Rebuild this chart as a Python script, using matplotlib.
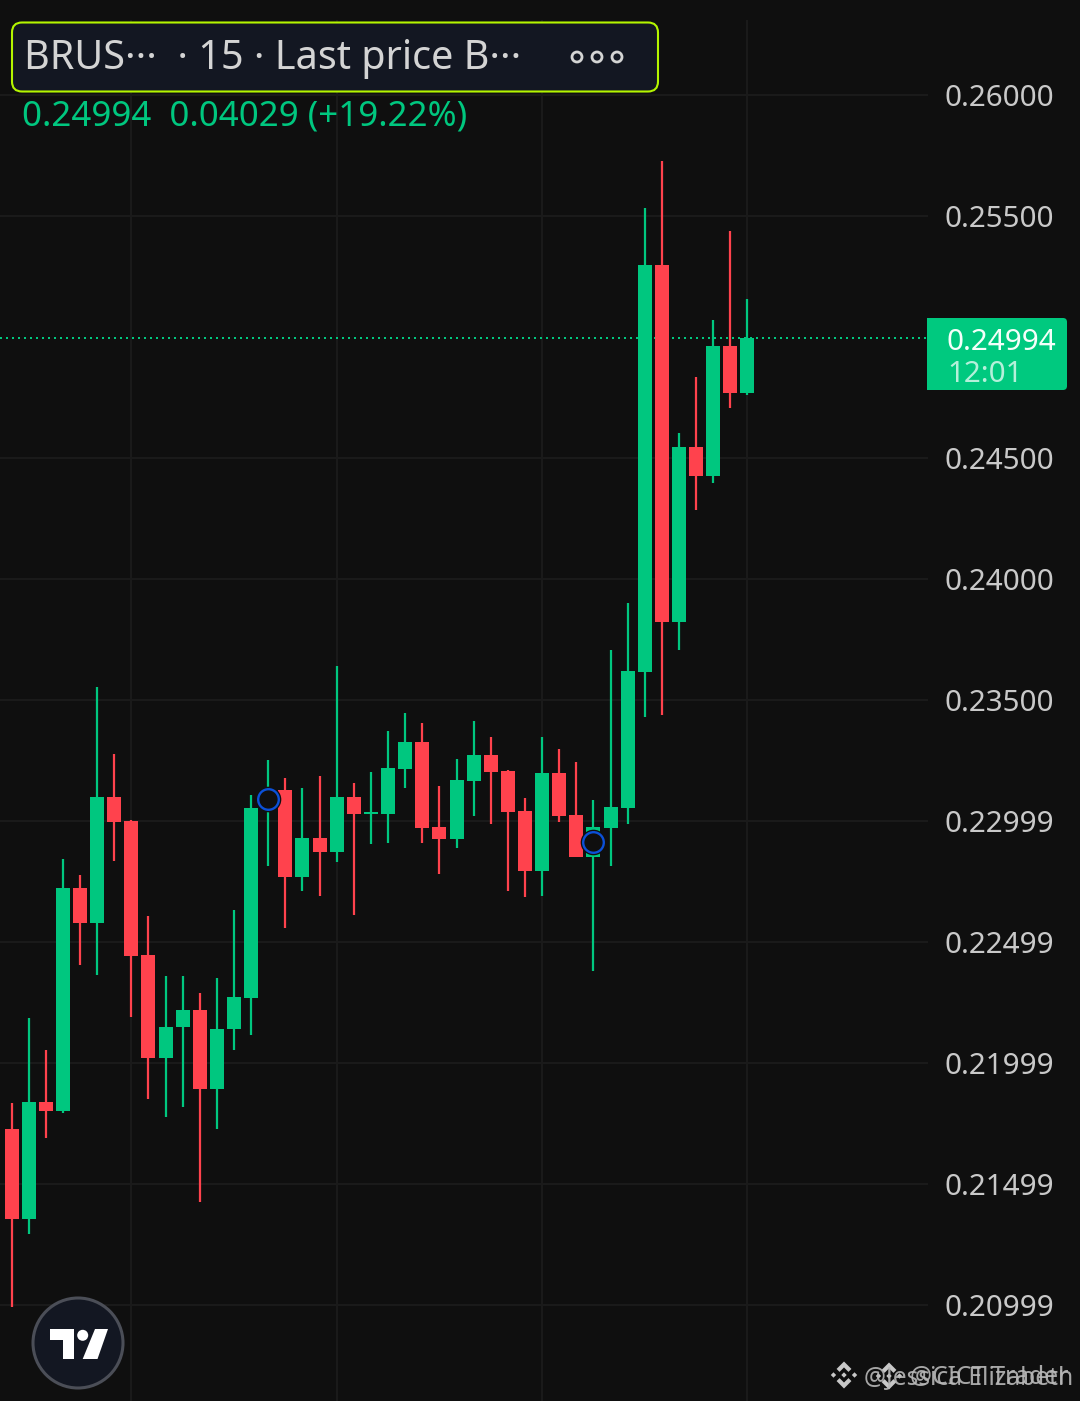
import matplotlib
matplotlib.use("Agg")
import matplotlib.pyplot as plt
from matplotlib.patches import FancyBboxPatch, Circle, Polygon

opens = [.21727,.21356,.21839,.21802,.22723,.22579,.23099,.23000,.22447,.22021,.22149,
         .22219,.21893,.22141,.22269,.23054,.23128,.22769,.22930,.22872,.23099,.23029,
         .23029,.23215,.23327,.22975,.22926,.23165,.23273,.23207,.23041,.22794,.23198,
         .23025,.22851,.22971,.23054,.23616,.25298,.23822,.24545,.24426,.24963,.24769]
highs = [.21835,.22186,.22054,.22843,.22777,.23554,.23277,.23004,.22608,.22360,.22360,
         .22289,.22351,.22632,.23107,.23252,.23178,.23136,.23186,.23641,.23157,.23203,
         .23372,.23446,.23405,.23145,.23256,.23413,.23347,.23211,.23095,.23347,.23298,
         .23244,.23087,.23707,.23901,.25533,.25727,.24603,.24835,.25070,.25438,.25157]
lows  = [.20992,.21294,.21690,.21794,.22405,.22364,.22835,.22190,.21851,.21777,.21818,
         .21426,.21727,.22054,.22116,.22814,.22558,.22711,.22690,.22831,.22612,.22905,
         .22909,.23136,.22909,.22781,.22888,.23021,.22988,.22711,.22686,.22690,.22996,
         .22851,.22380,.22814,.22988,.23430,.23438,.23707,.24285,.24397,.24707,.24760]
closes= [.21356,.21839,.21802,.22723,.22579,.23099,.22996,.22442,.22021,.22149,.22219,
         .21893,.22141,.22273,.23054,.23128,.22769,.22930,.22872,.23099,.23029,.23037,
         .23219,.23327,.22971,.22926,.23169,.23273,.23203,.23037,.22794,.23198,.23021,
         .22851,.22975,.23058,.23620,.25298,.23822,.24545,.24426,.24963,.24769,.24994]
is_up = [False,True,False,True,False,True,False,False,False,True,True,False,True,True,True,
         True,False,True,False,True,False,True,True,True,False,False,True,True,False,False,
         False,True,False,False,True,True,True,True,False,True,False,True,False,True]

marker_idx = [15, 34]
marker_price = [.23091, .22913]
grid_idx = [7, 19, 31, 43]
tick_values = [.26, .255, .245, .24, .235, .23, .225, .22, .215, .21]
tick_labels = ["0.26000","0.25500","0.24500","0.24000","0.23500","0.22999","0.22499",
               "0.21999","0.21499","0.20999"]
last_price = 0.24994

BG = "#0f0f0f"; GRID = "#1a1a1a"; UP = "#00c77f"; DOWN = "#ff424d"
TXT = "#c9c9c9"; BLUE = "#0b50d8"; FONT = "Noto Sans"
plt.rcParams["font.family"] = [FONT, "DejaVu Sans"]

W, H = 1080, 1401
fig = plt.figure(figsize=(W/100, H/100), dpi=100, facecolor=BG)
ax = fig.add_axes([0, 0, 1, 1], facecolor=BG)
step = 17.116
x0 = 11.5
ax.set_xlim(-x0/step, (W-x0)/step)
ax.set_ylim(.26-(H-95)/24200, .26+95/24200)
ax.axis("off")

axis_x = (928-x0)/step
ax.hlines(tick_values, ax.get_xlim()[0], axis_x, color=GRID, lw=1.5, zorder=1)
ax.vlines(grid_idx, ax.get_ylim()[0], .26310, color=GRID, lw=1.5, zorder=1)
ax.hlines(last_price, ax.get_xlim()[0], axis_x, color=UP, lw=1.44, ls=(0, (1, 2)), zorder=1.5)

for i in range(len(opens)):
    col = UP if is_up[i] else DOWN
    ax.vlines(i, lows[i], highs[i], color=col, lw=1.6, zorder=2)
    ax.bar(i, abs(closes[i]-opens[i]), bottom=min(opens[i], closes[i]), width=14/step,
           color=col, linewidth=0, zorder=3)

ax.scatter(marker_idx, marker_price, s=340, color=BG, linewidths=0, zorder=4)
ax.scatter(marker_idx, marker_price, s=220, facecolor=BG, edgecolor=BLUE, linewidths=1.7, zorder=5)

for v, t in zip(tick_values, tick_labels):
    ax.text((945-x0)/step, v, t, color=TXT, fontsize=21.3, va="center_baseline", ha="left")

# chrome in pixel coordinates
ov = fig.add_axes([0, 0, 1, 1], facecolor="none")
ov.set_xlim(0, W); ov.set_ylim(H, 0); ov.axis("off")

ov.add_patch(FancyBboxPatch((12, 22.5), 646, 69, boxstyle="round,pad=0,rounding_size=10",
                            fc="#131722", ec="#b4f500", lw=1.5, zorder=6))
ov.text(24, 54, "BRUS\u00b7\u00b7\u00b7  \u00b7 15 \u00b7 Last price B\u00b7\u00b7\u00b7", color="#d4d4d4",
        fontsize=28.5, va="center_baseline", ha="left", zorder=7)
for cx in (577, 597, 617):
    ov.add_patch(Circle((cx, 57), 5, fc="none", ec="#d4d4d4", lw=2, zorder=7))
ov.text(22, 112.5, "0.24994  0.04029 (+19.22%)", color=UP, fontsize=25.1,
        va="center_baseline", ha="left", zorder=7)

ov.add_patch(FancyBboxPatch((927, 318), 140, 72, boxstyle="round,pad=0,rounding_size=4",
                            fc="#00c97f", ec="none", zorder=6))
ov.add_patch(Polygon([(927, 318), (940, 318), (940, 390), (927, 390)], fc="#00c97f", ec="none", zorder=6))
ov.text(946, 338.5, "0.24994", color="#f4fffa", fontsize=21.3, va="center_baseline", ha="left", zorder=7)
ov.text(947, 371, "12:01", color="#b4f0da", fontsize=21.3, va="center_baseline", ha="left", zorder=7)

# TradingView badge
ov.add_patch(Circle((78, 1343), 45, fc="#131722", ec="#4b4e57", lw=2.2, zorder=6))
ov.add_patch(Polygon([(50, 1329), (74, 1329), (74, 1359), (63, 1359), (63, 1340), (50, 1340)],
                     fc="white", ec="none", zorder=7))
ov.add_patch(Circle((82.7, 1335.3), 5.5, fc="white", ec="none", zorder=7))
ov.add_patch(Polygon([(95, 1329), (108, 1329), (97.5, 1359), (82.7, 1359)], fc="white", ec="none", zorder=7))

def binance(cx, cy, r, col):
    def d(x, y, s):
        return [(x, y-s), (x+s, y), (x, y+s), (x-s, y)]
    for x, y in [(cx, cy), (cx-r*.78, cy), (cx+r*.78, cy)]:
        ov.add_patch(Polygon(d(x, y, r*.2), fc=col, ec="none", zorder=8))
    for sgn in (-1, 1):
        ov.add_patch(Polygon([(cx, cy+sgn*r), (cx+r*.55, cy+sgn*r*.45), (cx+r*.33, cy+sgn*r*.23),
                              (cx, cy+sgn*r*.56), (cx-r*.33, cy+sgn*r*.23), (cx-r*.55, cy+sgn*r*.45)],
                             fc=col, ec="none", zorder=8))

binance(844, 1375, 13.5, "#c8c8c8")
binance(889, 1376, 13.5, "#c8c8c8")
ov.text(864, 1375, "@Jessica Elizabeth", color="#b8b8b8", fontsize=17.7, va="center_baseline",
        ha="left", zorder=8, alpha=.9)
ov.text(910, 1375, "@CICT Trader", color="#b8b8b8", fontsize=17.7, va="center_baseline",
        ha="left", zorder=8, alpha=.9)

fig.savefig("out.png", dpi=100, facecolor=BG)
